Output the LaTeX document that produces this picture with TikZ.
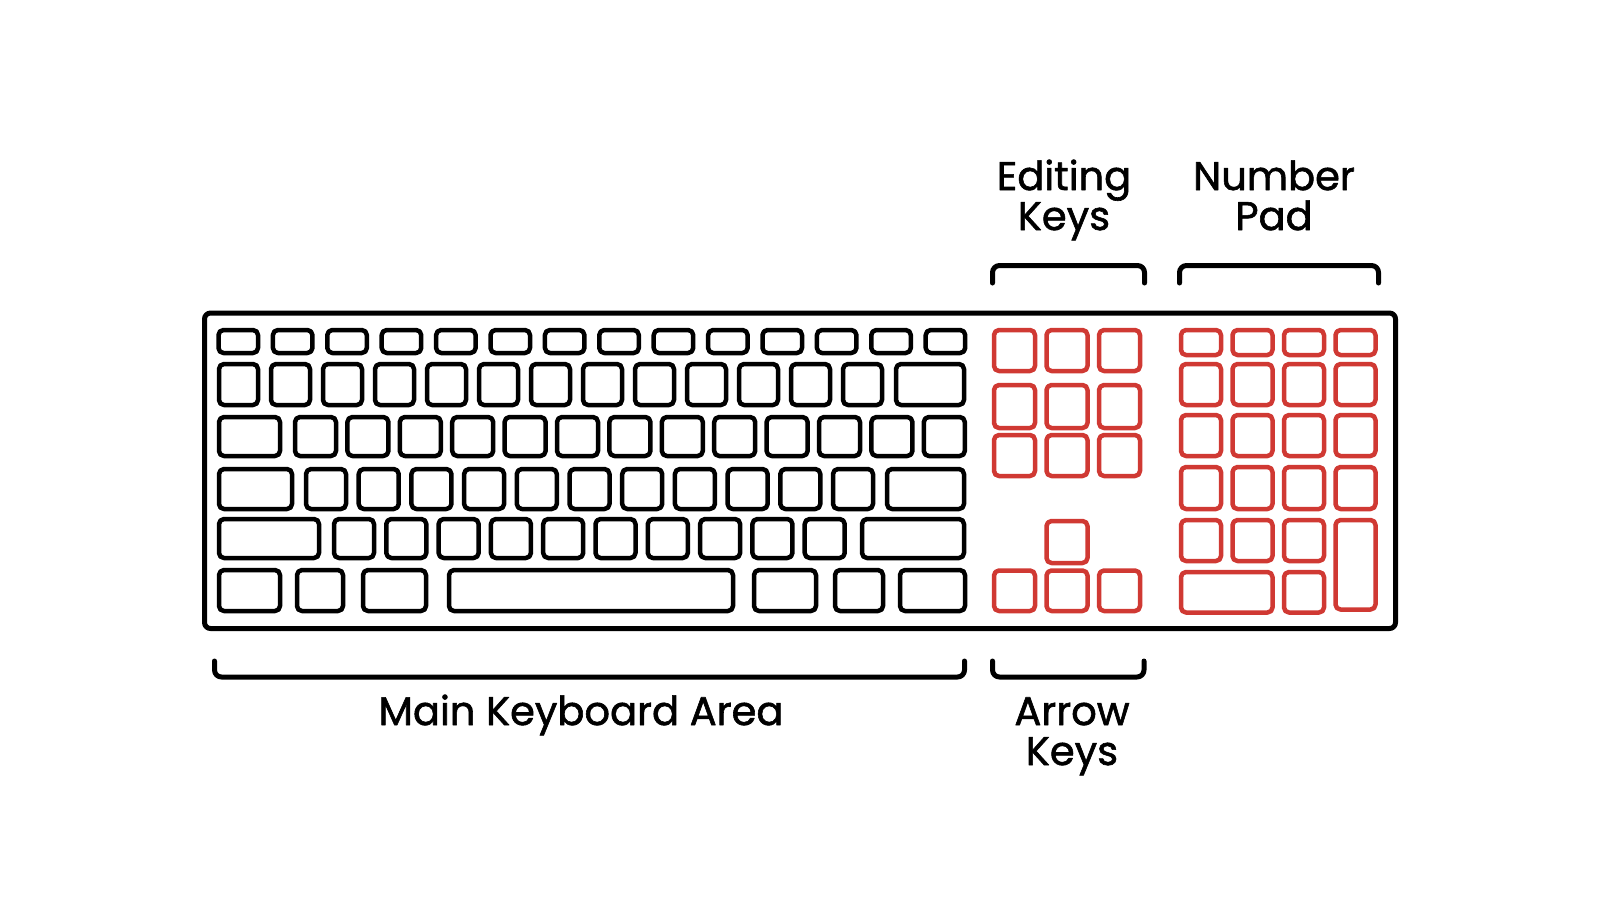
\documentclass[tikz,border=0pt]{standalone}
\usepackage{fontspec}
\setmainfont{Poppins}[FakeBold=1.5]
\usepackage{tikz}
\usetikzlibrary{
	calc,
	positioning
}
\definecolor{keyred}{RGB}{208,57,51}
\tikzset{every path/.append style={line join=round}}
\tikzset{
	key/.style={draw=black,line width=4.5pt,rounded corners=5pt},
	redkey/.style={key,draw=keyred},
	board/.style={draw=black,line width=5pt,rounded corners=6pt},
	brace/.style={draw=black,line width=5pt,line cap=round,rounded corners=7pt},
	grouplabel/.style={font=\fontsize{40}{40}\selectfont,align=center,inner sep=0pt}
}
\newcommand{\tikzKey}[5][]{\draw[key,#1] (#2,#3) rectangle (#4,#5);}

\begin{document}
\begin{tikzpicture}[x=1pt,y=-1pt]
	\useasboundingbox (0,0) rectangle (1600,900);
	% case
	\draw[board] (204.5,313) rectangle (1395.5,628.5);

	% main keyboard area
	\foreach \i in {0,...,13}
		{\tikzKey{218.5+54.4*\i}{330}{258+54.4*\i}{353}}
	\foreach \i in {0,...,12}
		{\tikzKey{219+52*\i}{364}{258+52*\i}{405}}
	\tikzKey{896}{364}{964}{405}
	\tikzKey{219}{417}{280}{456}
	\foreach \i in {0,...,12}
		{\tikzKey{295+52.4*\i}{417}{336+52.4*\i}{456}}
	\tikzKey{219}{469}{292}{509}
	\foreach \i in {0,...,10}
		{\tikzKey{306+52.7*\i}{469}{346+52.7*\i}{509}}
	\tikzKey{887}{469}{964}{509}
	\tikzKey{219}{519}{319}{558}
	\foreach \i in {0,...,9}
		{\tikzKey{334+52.3*\i}{519}{374+52.3*\i}{558}}
	\tikzKey{862}{519}{964}{558}
	\foreach \a/\b in {219/280,297/343,363/426,449/733,754/816,835/883,900/965}
		{\tikzKey{\a}{570}{\b}{611}}

	% editing and arrow keys
	\foreach \j in {0,1,2}{
		\foreach \t/\u in {330/371,385/428,435/476}
			{\tikzKey[redkey]{994+52.5*\j}{\t}{1035+52.5*\j}{\u}}
		\tikzKey[redkey]{994+52.5*\j}{570.5}{1035+52.5*\j}{611}
	}
	\tikzKey[redkey]{1046.5}{521}{1087.5}{563}

	% number pad
	\foreach \j in {0,...,3}{
		\tikzKey[redkey]{1181+51.5*\j}{330}{1221+51.5*\j}{355}
		\tikzKey[redkey]{1181+51.5*\j}{364}{1221+51.5*\j}{405}
		\tikzKey[redkey]{1181+51.5*\j}{415}{1221+51.5*\j}{456}
		\tikzKey[redkey]{1181+51.5*\j}{467}{1221+51.5*\j}{509}
	}
	\foreach \j in {0,1,2}
		{\tikzKey[redkey]{1181+51.5*\j}{520}{1221+51.5*\j}{561}}
	\tikzKey[redkey]{1181}{572}{1272.5}{612.5}
	\tikzKey[redkey]{1284}{572}{1324}{612.5}
	\tikzKey[redkey]{1335.5}{520}{1375.5}{609.5}

	% brackets
	\draw[brace] (992.5,283) -- (992.5,265.5) -- (1144.5,265.5) -- (1144.5,283);
	\draw[brace] (1179.5,283) -- (1179.5,265.5) -- (1378.5,265.5) -- (1378.5,283);
	\draw[brace] (214.5,661) -- (214.5,677) -- (964.5,677) -- (964.5,661);
	\draw[brace] (992.5,661) -- (992.5,677) -- (1144,677) -- (1144,661);

	% labels (base = last line)
	\node[grouplabel,anchor=base] (editLbl) at (1064,230) {Editing\\Keys};
	\node[grouplabel,anchor=base] (numLbl) at (1274,230) {Number\\Pad};
	\node[grouplabel,anchor=base] (mainLbl) at (581,725) {Main Keyboard Area};
	\node[grouplabel,anchor=base] (arrowLbl) at (1072,765) {Arrow\\Keys};
\end{tikzpicture}
\end{document}
